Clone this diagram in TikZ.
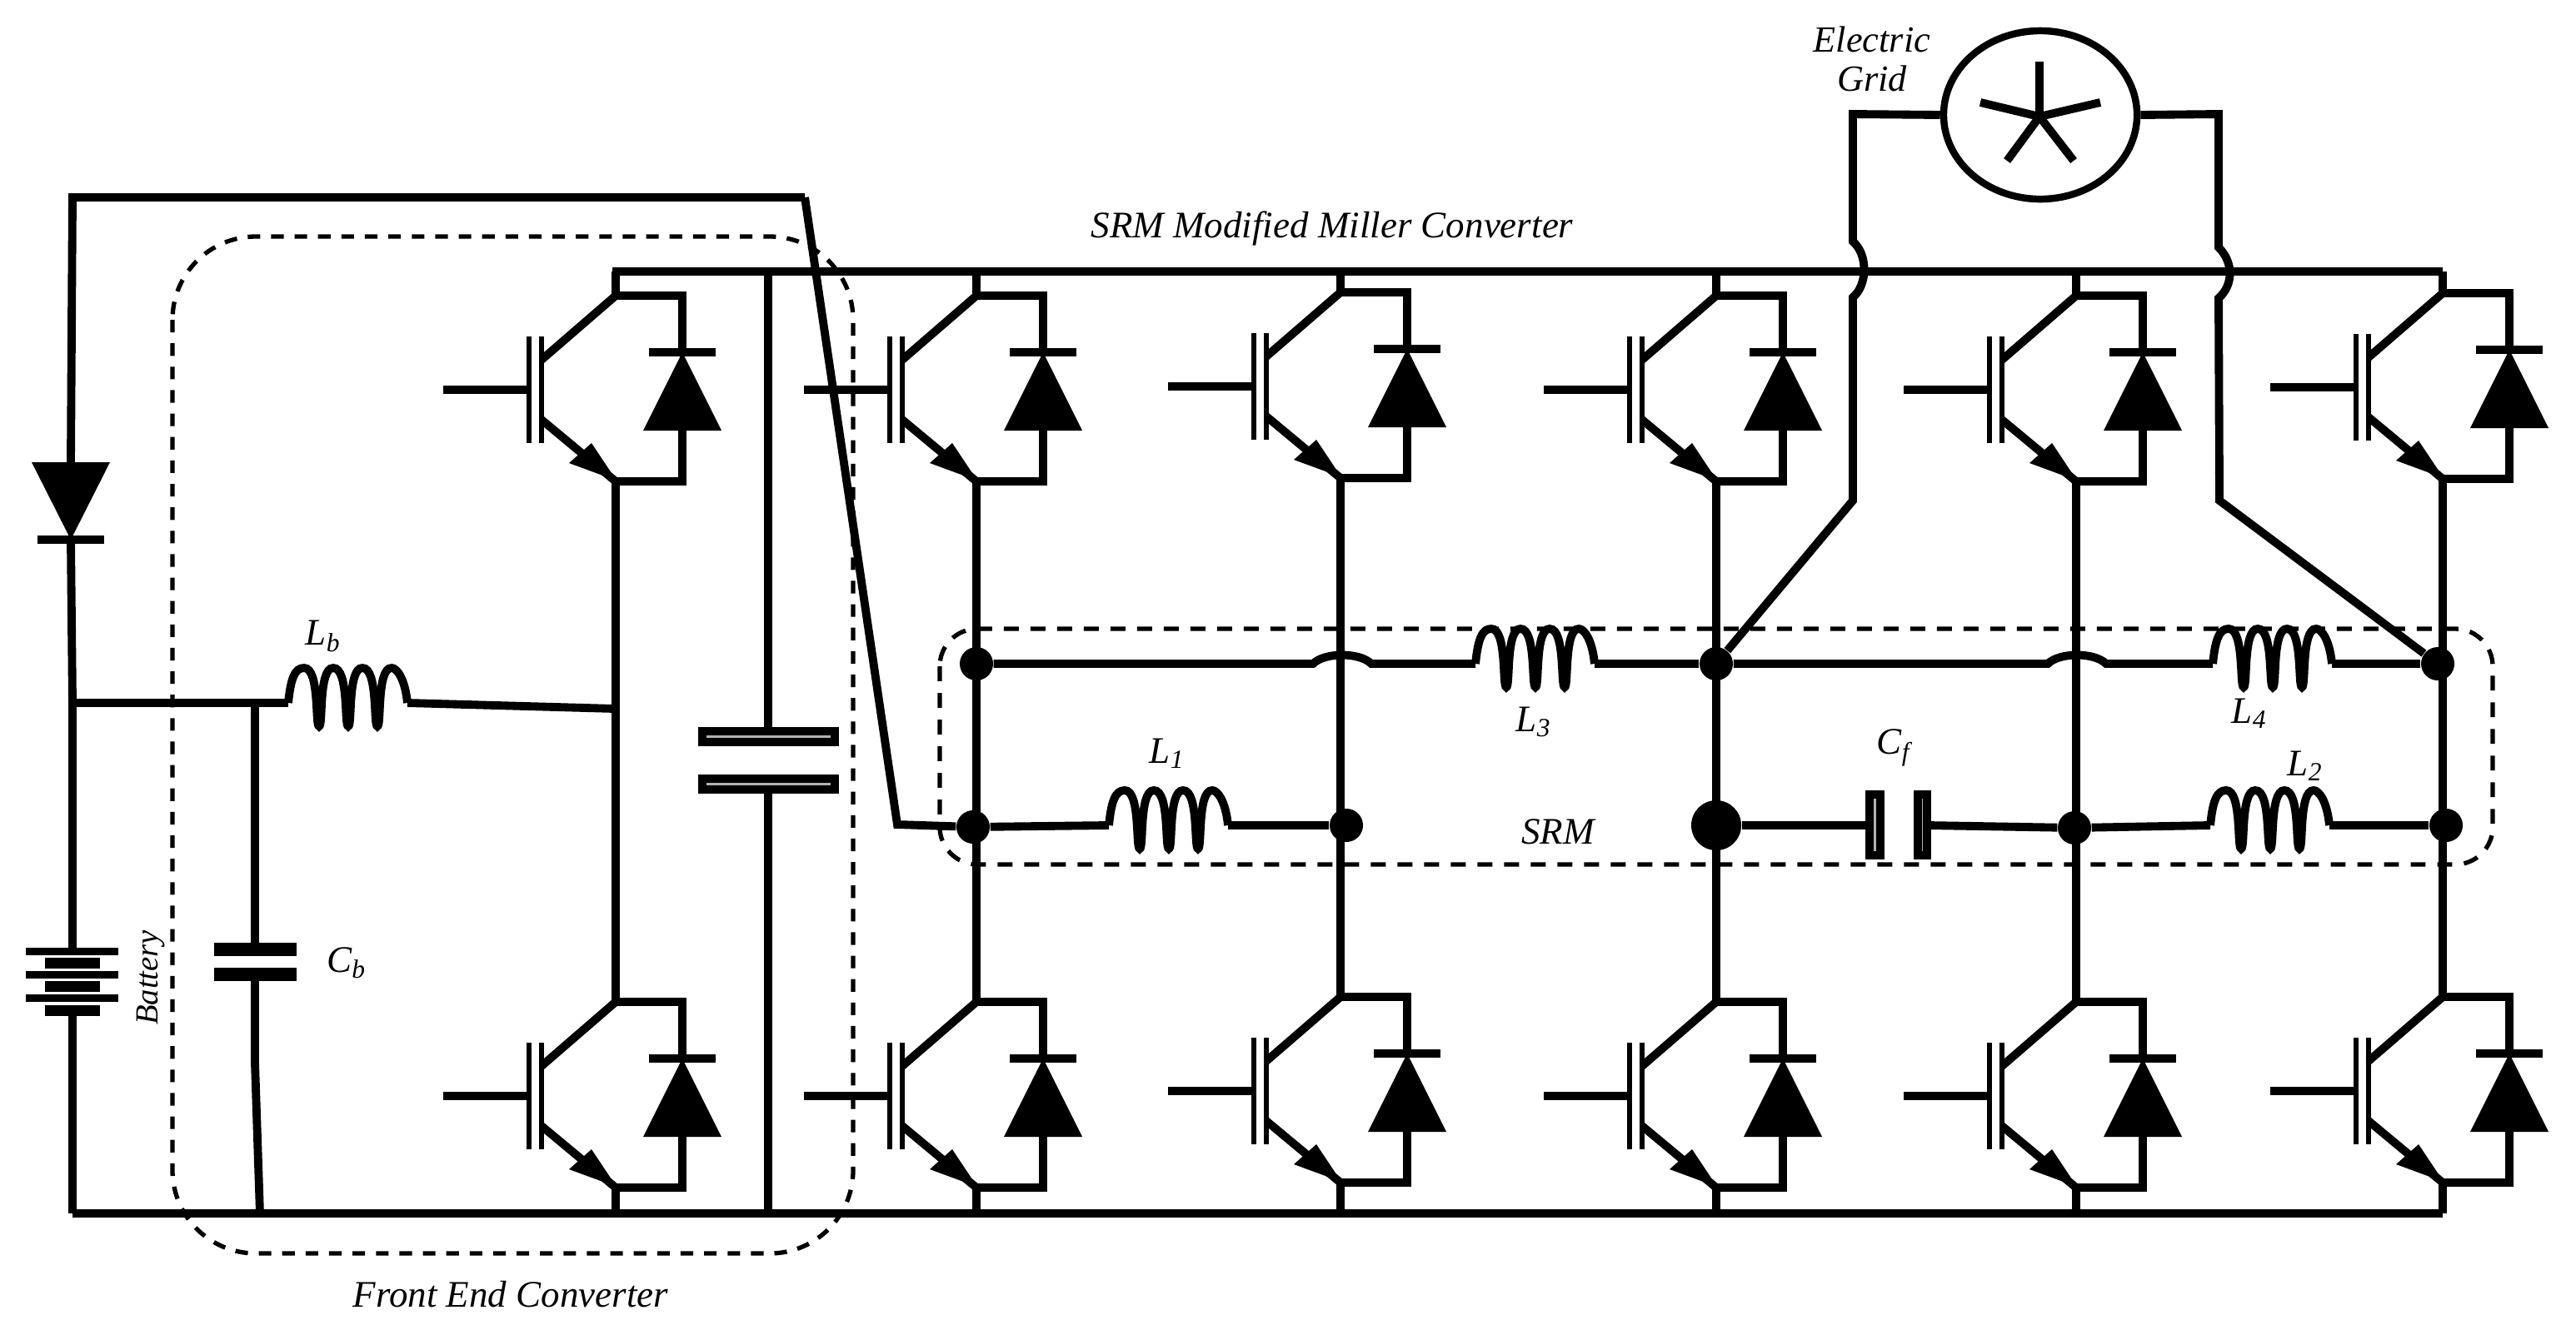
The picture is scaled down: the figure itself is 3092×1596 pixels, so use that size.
\documentclass[tikz,border=0pt]{standalone}
\usepackage{fontspec}
\setmainfont{Liberation Serif}
\usetikzlibrary{shapes.geometric}
\tikzset{
    wire/.style={line width=2.8pt},
    gatewire/.style={line width=2.9pt},
    gateplate/.style={line width=1.6pt},
    boxline/.style={line width=1.5pt, dash pattern=on 4.3pt off 3.7pt, rounded corners=1cm},
    dot/.style={circle, fill=black, inner sep=0pt, minimum size=0.4cm},
    bigdot/.style={dot, minimum size=0.6cm},
    tag/.style={font=\itshape\fontsize{12.8}{15}\selectfont, text=black},
    plate/.style={draw=black, line width=2.8pt, fill=black!30},
    diode/.pic={
        \coordinate (-a) at (0,-93);
        \coordinate (-k) at (0,0);
        \fill (-47,-93) -- (47,-93) -- (0,0) -- cycle;
        \draw[gatewire] (-40,0) -- (40,0);
    },
    igbt/.pic={
        \coordinate (-c) at (0,0);
        \coordinate (-e) at (0,223);
        % compuerta
        \draw[gatewire] (-207,113) -- (-104,113);
        \draw[gateplate] (-104,49) -- (-104,177);
        \draw[gateplate] (-89,49) -- (-89,177);
        % colector y emisor
        \draw[wire] (-89,77) -- (-c);
        \draw[wire] (-89,149) -- (-e);
        \fill (1,222) -- (-29,177) -- (-56,201) -- cycle;
        % diodo
        \fill (33,162) -- (127,162) -- (80,68) -- cycle;
        \draw[gatewire] (40,68) -- (120,68);
        \draw[wire] (-c) -- (80,0) -- (80,68);
        \draw[wire] (80,162) -- (80,223) -- (-e);
    },
    coil/.pic={
        \coordinate (-a) at (0,0);
        \coordinate (-b) at (143,0);
        \draw[wire] (-a) .. controls (3,-30) and (8,-42) .. (19,-42)
            \foreach \k in {0,35,70} {
                .. controls (\k+38,-42) and (\k+32,28) .. (\k+37,28)
                .. controls (\k+42,28) and (\k+36,-42) .. (\k+54,-42)
            }
            .. controls (130,-42) and (140,-30) .. (-b);
    }
}

\begin{document}
\begin{tikzpicture}[x=0.01cm, y=-0.01cm]
    \useasboundingbox (0,0) rectangle (3092,1596);
    % Rieles
    \coordinate (railtop) at (735,326);
    \coordinate (railtopend) at (2932,326);
    \coordinate (railbot) at (87,1457);
    \coordinate (railbotend) at (2932,1457);
    \draw[wire] (railtop) -- (railtopend);
    \draw[wire] (railbot) -- (railbotend);
    % Ramas de IGBT
    \foreach \leg/\xc/\yu/\yd in {fe/739/355/1203, a/1172/355/1203, b/1609/351/1197, c/2060/355/1203, d/2492/355/1203, e/2932/352/1197} {
        \pic (\leg u) at (\xc,\yu) {igbt};
        \pic (\leg d) at (\xc,\yd) {igbt};
        \draw[wire] (\leg u-c |- railtop) -- (\leg u-c);
        \draw[wire] (\leg u-e) -- (\leg d-c);
        \draw[wire] (\leg d-e) -- (\leg d-e |- railbot);
    }
    % Bus capacitor
    \coordinate (cbusa) at (922,326);
    \coordinate (cbusb) at (922,1457);
    \draw[wire] (cbusa) -- (922,878);
    \draw[wire] (922,948) -- (cbusb);
    \draw[plate] (843,878) rectangle (1002,891);
    \draw[plate] (843,935) rectangle (1002,948);
    % Bateria y diodo
    \coordinate (corner) at (87,237);
    \coordinate (cornerb) at (966,237);
    \coordinate (slantend) at (1077,990);
    \coordinate (jleft) at (87,844);
    \coordinate (jfe) at (739,851);
    \coordinate (batplus) at (87,1143);
    \coordinate (batminus) at (87,1214);
    \pic (dleft) at (85,648) {diode};
    \draw[wire] (dleft-a) -- (corner) -- (cornerb);
    \draw[wire] (dleft-k) -- (jleft) -- (batplus);
    \draw[wire] (batminus) -- (railbot);
    \foreach \yp in {1143,1171,1199}
        \fill (31,\yp-5) rectangle (142,\yp+4);
    \foreach \yp in {1157,1185,1214}
        \fill (54,\yp-7) rectangle (120,\yp+6);
    % Filtro de entrada
    \pic (Lb) at (346,844) {coil};
    \draw[wire] (jleft) -- (Lb-a);
    \draw[wire] (Lb-b) -- (jfe);
    \coordinate (jcb) at (306,844);
    \draw[wire] (jcb) -- (306,1132);
    \fill (257,1132) rectangle (356,1148);
    \fill (257,1162) rectangle (356,1178);
    \draw[wire] (306,1178) -- (306,1276) -- (312,1457);
    % Nodos del SRM
    \node[dot] (na) at (1172,797) {};
    \node[dot] (nc) at (2060,797) {};
    \node[dot] (ne) at (2926,797) {};
    \node[dot] (ma) at (1168,993) {};
    \node[dot] (mb) at (1616,991) {};
    \node[bigdot] (mc) at (2060,991) {};
    \node[dot] (md) at (2490,994) {};
    \node[dot] (me) at (2936,991) {};
    \draw[wire] (cornerb) -- (slantend) -- (ma);
    % Bobinas
    \pic (Lthree) at (1771,797) {coil};
    \pic (Lfour) at (2656,797) {coil};
    \pic (Lone) at (1331,991) {coil};
    \pic (Ltwo) at (2653,991) {coil};
    \draw[wire] (na) -- (1576,797) .. controls (1590,783) and (1632,783) .. (1646,797) -- (Lthree-a);
    \draw[wire] (Lthree-b) -- (nc);
    \draw[wire] (nc) -- (2458,797) .. controls (2472,783) and (2514,783) .. (2528,797) -- (Lfour-a);
    \draw[wire] (Lfour-b) -- (ne);
    \draw[wire] (ma) -- (Lone-a);
    \draw[wire] (Lone-b) -- (mb);
    \draw[wire] (md) -- (Ltwo-a);
    \draw[wire] (Ltwo-b) -- (me);
    % Capacitor Cf
    \draw[wire] (mc) -- (2244,991);
    \draw[wire] (2313,991) -- (md);
    \draw[plate] (2244,954) rectangle (2257,1027);
    \draw[plate] (2302,954) rectangle (2313,1027);
    % Red electrica
    \node[ellipse, draw, line width=2.4pt, minimum width=2.32cm, minimum height=2.02cm, inner sep=0pt] (grid) at (2449,138) {};
    \coordinate (star) at (2448,140);
    \foreach \dx/\dy in {0/-66, 73/-17, -71/-17, -39/53, 41/53}
        \draw[wire] (star) -- ++(\dx,\dy);
    \draw[wire] (grid.west) -- (2224,137) -- (2224,290) .. controls (2242,305) and (2242,342) .. (2224,357) -- (2224,601) -- (nc);
    \draw[wire] (grid.east) -- (2663,137) -- (2663,297) .. controls (2681,315) and (2681,342) .. (2663,358) -- (2664,601) -- (ne);
    % Recuadros
    \draw[boxline] (207,284) rectangle (1024,1505);
    \draw[boxline, rounded corners=0.45cm, dash pattern=on 5.1pt off 4pt] (1128,755) rectangle (2992,1038);
    % Etiquetas
    \node[tag] (title) at (1599,274) {SRM Modified Miller Converter};
    \node[tag] (frontend) at (613,1554) {Front End Converter};
    \node[tag] (srm) at (1870,999) {SRM};
    \node[tag, align=center, font=\itshape\fontsize{12.6}{13.4}\selectfont] (gridlabel) at (2247,71) {Electric\\Grid};
    \node[tag, rotate=90, font=\itshape\fontsize{11}{13}\selectfont] (battery) at (181,1174) {Battery};
    \node[tag] (lb) at (388,764) {L\textsubscript{b}};
    \node[tag] (cb) at (416,1156) {C\textsubscript{b}};
    \node[tag] (lone) at (1401,905) {L\textsubscript{1}};
    \node[tag] (ltwo) at (2767,920) {L\textsubscript{2}};
    \node[tag] (lthree) at (1841,867) {L\textsubscript{3}};
    \node[tag] (lfour) at (2700,857) {L\textsubscript{4}};
    \node[tag] (cf) at (2273,898) {C\textsubscript{f}};
\end{tikzpicture}
\end{document}
